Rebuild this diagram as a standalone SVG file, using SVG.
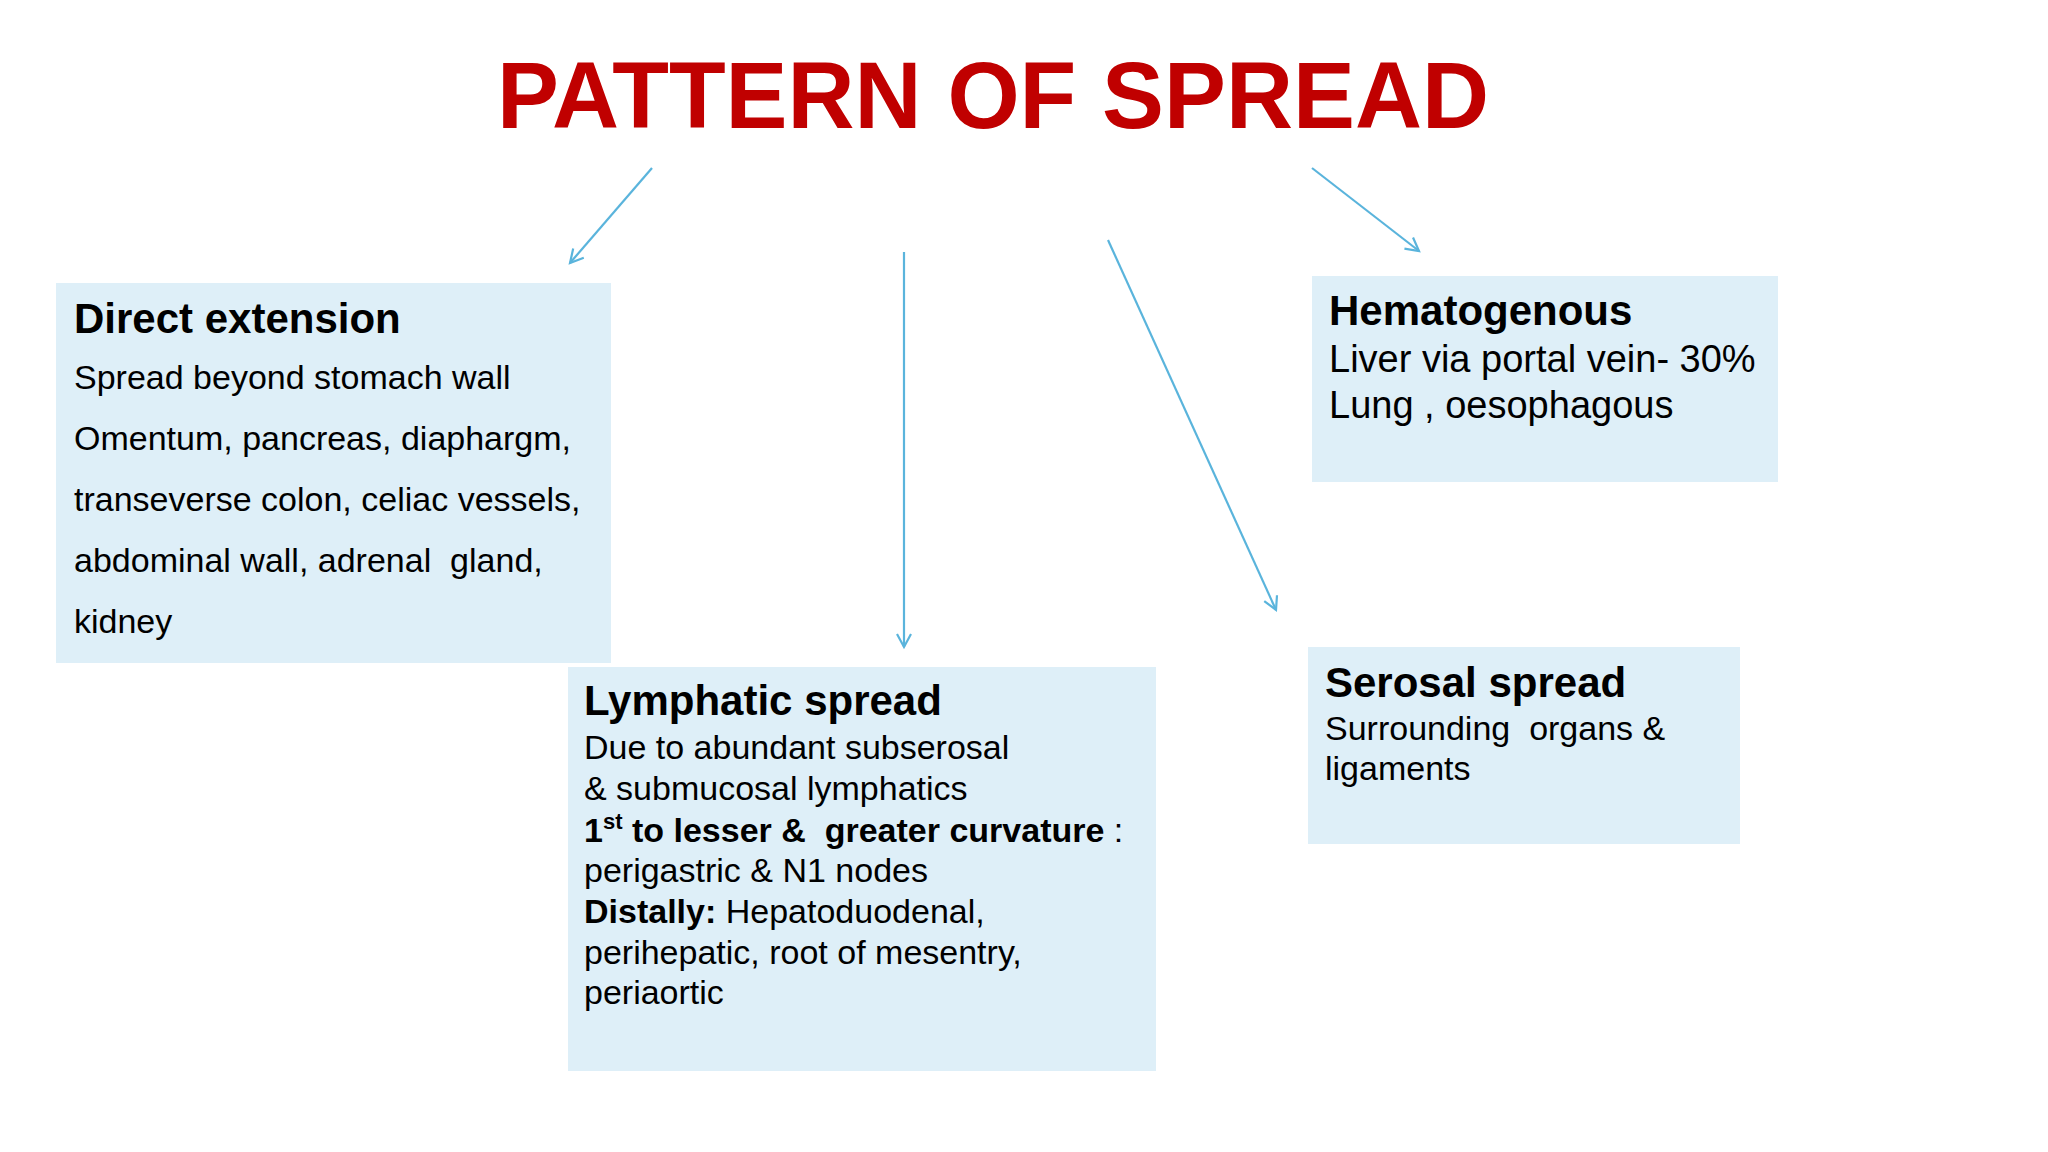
<svg xmlns="http://www.w3.org/2000/svg" width="2048" height="1152" viewBox="0 0 2048 1152">
  <style>
    text { font-family: "Liberation Sans", Arial, sans-serif; fill: #000; white-space: pre; }
    .title { font-size: 94px; font-weight: bold; fill: #C00000; }
    .head { font-size: 42px; font-weight: bold; }
    .body { font-size: 34px; }
    .body38 { font-size: 38px; }
    .b { font-weight: bold; }
    .box { fill: #DEEFF8; }
    .conn { stroke: #5AB4DC; stroke-width: 2.2; fill: none; marker-end: url(#arrow); }
  </style>
  <defs>
    <marker id="arrow" markerUnits="userSpaceOnUse" markerWidth="20" markerHeight="20" viewBox="0 0 20 20" refX="17" refY="10" orient="auto">
      <path d="M4,3 L17,10 L4,17" fill="none" stroke="#5AB4DC" stroke-width="2.2"/>
    </marker>
  </defs>
  <rect width="2048" height="1152" fill="#FFFFFF"/>

  <g id="title">
    <text class="title" x="497" y="128" textLength="992" lengthAdjust="spacingAndGlyphs">PATTERN OF SPREAD</text>
  </g>

  <g id="connectors">
    <line class="conn" x1="652" y1="168" x2="570" y2="263"/>
    <line class="conn" x1="904" y1="252" x2="904" y2="647"/>
    <line class="conn" x1="1108" y1="240" x2="1276" y2="610"/>
    <line class="conn" x1="1312" y1="168" x2="1419" y2="251"/>
  </g>

  <g id="node-direct">
    <rect class="box" x="56" y="283" width="555" height="380"/>
    <text class="head" x="74" y="333">Direct extension</text>
    <text class="body" x="74" y="389">Spread beyond stomach wall</text>
    <text class="body" x="74" y="450">Omentum, pancreas, diaphargm,</text>
    <text class="body" x="74" y="511">transeverse colon, celiac vessels,</text>
    <text class="body" x="74" y="572">abdominal wall, adrenal  gland,</text>
    <text class="body" x="74" y="633">kidney</text>
  </g>

  <g id="node-lymphatic">
    <rect class="box" x="568" y="667" width="588" height="404"/>
    <text class="head" x="584" y="715">Lymphatic spread</text>
    <text class="body" x="584" y="759">Due to abundant subserosal</text>
    <text class="body" x="584" y="800">&amp; submucosal lymphatics</text>
    <text class="body" x="584" y="842"><tspan class="b">1</tspan><tspan class="b" font-size="22" dy="-13">st</tspan><tspan class="b" dy="13"> to lesser &amp;  greater curvature</tspan> :</text>
    <text class="body" x="584" y="882">perigastric &amp; N1 nodes</text>
    <text class="body" x="584" y="923"><tspan class="b">Distally:</tspan> Hepatoduodenal,</text>
    <text class="body" x="584" y="964">perihepatic, root of mesentry,</text>
    <text class="body" x="584" y="1004">periaortic</text>
  </g>

  <g id="node-hematogenous">
    <rect class="box" x="1312" y="276" width="466" height="206"/>
    <text class="head" x="1329" y="325">Hematogenous</text>
    <text class="body38" x="1329" y="372">Liver via portal vein- 30%</text>
    <text class="body38" x="1329" y="418">Lung , oesophagous</text>
  </g>

  <g id="node-serosal">
    <rect class="box" x="1308" y="647" width="432" height="197"/>
    <text class="head" x="1325" y="697">Serosal spread</text>
    <text class="body" x="1325" y="740">Surrounding  organs &amp;</text>
    <text class="body" x="1325" y="780">ligaments</text>
  </g>
</svg>
